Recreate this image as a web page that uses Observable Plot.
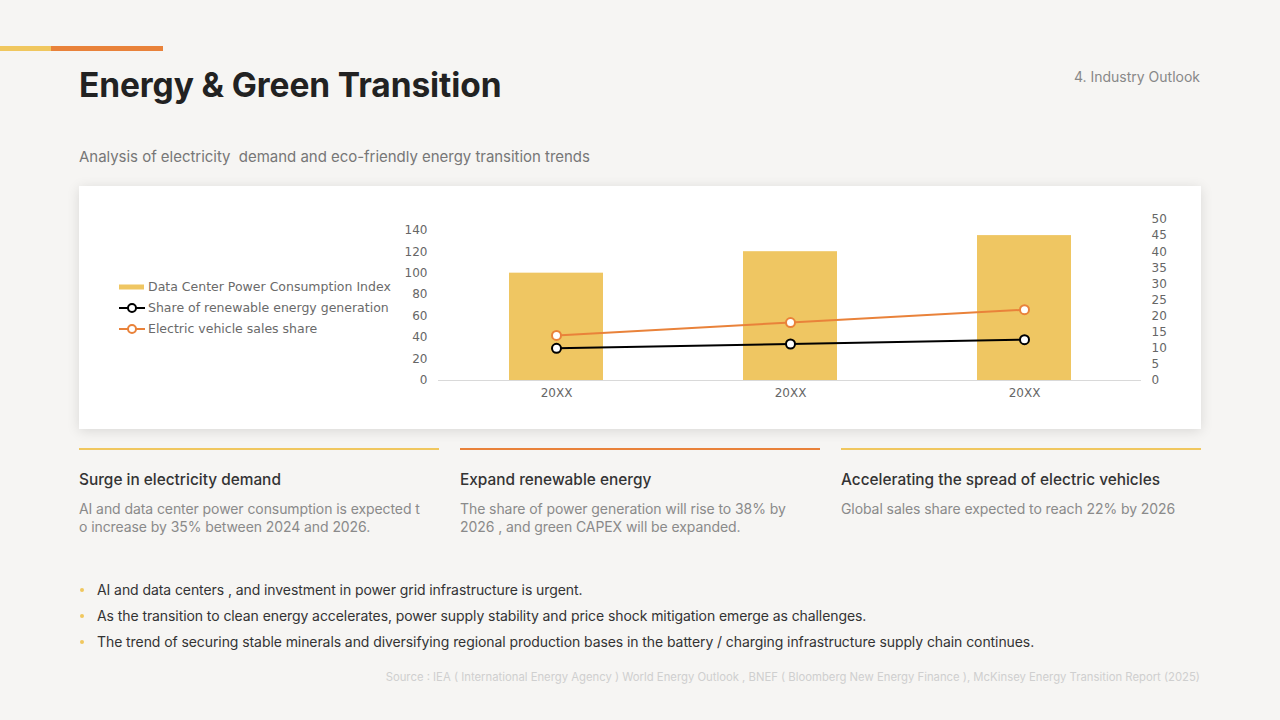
<!DOCTYPE html>
<html>
<head>
<meta charset="utf-8">
<script src="https://cdn.jsdelivr.net/npm/d3@7"></script>
<script src="https://cdn.jsdelivr.net/npm/@observablehq/plot@0.6"></script>
<style>
  html, body { margin: 0; padding: 0; }
  body {
    width: 1280px; height: 720px; position: relative; overflow: hidden;
    background: #f6f5f3;
    font-family: Inter, "Noto Sans", sans-serif;
  }
  .accent { position: absolute; top: 46px; height: 5px; }
  .title { position: absolute; left: 79px; top: 65px; font-size: 33.5px; font-weight: 700; color: #222; letter-spacing: -0.1px; margin: 0; }
  .section { position: absolute; right: 80px; top: 68px; font-size: 14px; color: #888; }
  .subtitle { position: absolute; left: 79px; top: 147px; font-size: 15px; color: #777; white-space: pre; letter-spacing: -0.03px; }
  .card { position: absolute; left: 79px; top: 186px; width: 1122px; height: 243px; background: #fff; box-shadow: 0 2px 12px rgba(0,0,0,0.12); }
  .card svg { position: absolute; left: 0; top: 0; }
  .legend { position: absolute; left: 40px; top: 90px; font-family: "DejaVu Sans", sans-serif; font-size: 12.5px; color: #6a6a6a; }
  .legend .row { height: 21px; display: flex; align-items: center; }
  .legend svg { position: static; margin-right: 3px; }
  .col { position: absolute; top: 448px; width: 360px; }
  .col .bar { height: 2px; }
  .col h3 { margin: 20px 0 0 0; font-size: 15.4px; font-weight: 500; color: #333; line-height: 20px; }
  .col p { margin: 10px 0 0 0; font-size: 14px; color: #8a8a8a; line-height: 18px; letter-spacing: -0.08px; }
  .bullets { position: absolute; left: 79px; top: 580px; margin: 0; padding: 0; list-style: none; }
  .bullets li { height: 26px; line-height: 20px; font-size: 14px; color: #333; position: relative; padding-left: 18px; letter-spacing: -0.08px; }
  .bullets li::before { content: ""; position: absolute; left: 1px; top: 8px; width: 4px; height: 4px; border-radius: 50%; background: #f0c75e; }
  .source { position: absolute; right: 80px; top: 670px; font-size: 11.3px; color: #cfcfcf; }
</style>
</head>
<body>
<div class="accent" style="left:0;width:51px;background:#f0c75e"></div>
<div class="accent" style="left:51px;width:112px;background:#e9823a"></div>
<h1 class="title">Energy &amp; Green Transition</h1>
<div class="section">4. Industry Outlook</div>
<div class="subtitle">Analysis of electricity  demand and eco-friendly energy transition trends</div>

<div class="card" id="card">
  <div class="legend" id="legend"></div>
</div>

<div class="col" style="left:79px">
  <div class="bar" style="background:#f0c75e"></div>
  <h3>Surge in electricity demand</h3>
  <p>AI and data center power consumption is expected t<br>o increase by 35% between 2024 and 2026.</p>
</div>
<div class="col" style="left:460px">
  <div class="bar" style="background:#e9823a"></div>
  <h3>Expand renewable energy</h3>
  <p>The share of power generation will rise to 38% by<br>2026 , and green CAPEX will be expanded.</p>
</div>
<div class="col" style="left:841px">
  <div class="bar" style="background:#f0c75e"></div>
  <h3>Accelerating the spread of electric vehicles</h3>
  <p>Global sales share expected to reach 22% by 2026</p>
</div>

<ul class="bullets">
  <li>AI and data centers , and investment in power grid infrastructure is urgent.</li>
  <li>As the transition to clean energy accelerates, power supply stability and price shock mitigation emerge as challenges.</li>
  <li>The trend of securing stable minerals and diversifying regional production bases in the battery / charging infrastructure supply chain continues.</li>
</ul>

<div class="source">Source : IEA ( International Energy Agency ) World Energy Outlook , BNEF ( Bloomberg New Energy Finance ), McKinsey Energy Transition Report (2025)</div>

<script>
// Periods shown on the category axis
const periodLabels = ["20XX", "20XX", "20XX"];
// Series values
const powerIndex = [100, 120, 135];      // Data Center Power Consumption Index (left axis)
const renewableShare = [30, 34, 38];     // Share of renewable energy generation (left axis)
const evShare = [14, 18, 22];            // Electric vehicle sales share (right axis, %)
// Axis ticks
const leftTicks = [0, 20, 40, 60, 80, 100, 120, 140];
const rightTicks = [0, 5, 10, 15, 20, 25, 30, 35, 40, 45, 50];
const leftMax = 150;
const rightMax = 50;

const colors = { bar: "#efc662", renew: "#000000", ev: "#e9823a" };
const k = leftMax / rightMax; // right-axis values drawn on the left scale

const rows = periodLabels.map((p, i) => ({
  i,
  power: powerIndex[i],
  renew: renewableShare[i],
  ev: evShare[i] * k
}));

const chart = Plot.plot({
  width: 1122,
  height: 243,
  marginLeft: 359,
  marginRight: 60,
  marginTop: 33,
  marginBottom: 49,
  style: { fontFamily: "DejaVu Sans, sans-serif", fontSize: "12px", color: "#666", background: "transparent" },
  x: { type: "band", domain: [0, 1, 2], paddingInner: 0.6, paddingOuter: 0.3 },
  y: { domain: [0, leftMax] },
  marks: [
    Plot.barY(rows, { x: "i", y: "power", fill: colors.bar }),
    Plot.ruleY([0], { stroke: "#d9d9d9" }),
    Plot.axisX({ tickSize: 0, tickPadding: 8, tickFormat: (i) => periodLabels[i], label: null }),
    Plot.axisY(leftTicks, { anchor: "left", tickSize: 0, tickPadding: 11, label: null }),
    Plot.axisY(rightTicks.map((v) => v * k), {
      anchor: "right", tickSize: 0, tickPadding: 10, label: null,
      tickFormat: (v) => Math.round(v / k)
    }),
    Plot.line(rows, { x: "i", y: "renew", stroke: colors.renew, strokeWidth: 2 }),
    Plot.dot(rows, { x: "i", y: "renew", r: 4.5, fill: "#fff", stroke: colors.renew, strokeWidth: 2 }),
    Plot.line(rows, { x: "i", y: "ev", stroke: colors.ev, strokeWidth: 2 }),
    Plot.dot(rows, { x: "i", y: "ev", r: 4.5, fill: "#fff", stroke: colors.ev, strokeWidth: 2 })
  ]
});
document.getElementById("card").prepend(chart);

// Legend
const legendItems = [
  { label: "Data Center Power Consumption Index", kind: "bar", color: colors.bar },
  { label: "Share of renewable energy generation", kind: "line", color: colors.renew },
  { label: "Electric vehicle sales share", kind: "line", color: colors.ev }
];
const legend = d3.select("#legend");
for (const item of legendItems) {
  const row = legend.append("div").attr("class", "row");
  const sw = row.append("svg").attr("width", 26).attr("height", 12);
  if (item.kind === "bar") {
    sw.append("rect").attr("x", 0).attr("y", 3.5).attr("width", 25).attr("height", 5).attr("fill", item.color);
  } else {
    sw.append("line").attr("x1", 0).attr("x2", 26).attr("y1", 6).attr("y2", 6).attr("stroke", item.color).attr("stroke-width", 2);
    sw.append("circle").attr("cx", 13).attr("cy", 6).attr("r", 4).attr("fill", "#fff").attr("stroke", item.color).attr("stroke-width", 2);
  }
  row.append("span").text(item.label);
}
</script>
</body>
</html>
